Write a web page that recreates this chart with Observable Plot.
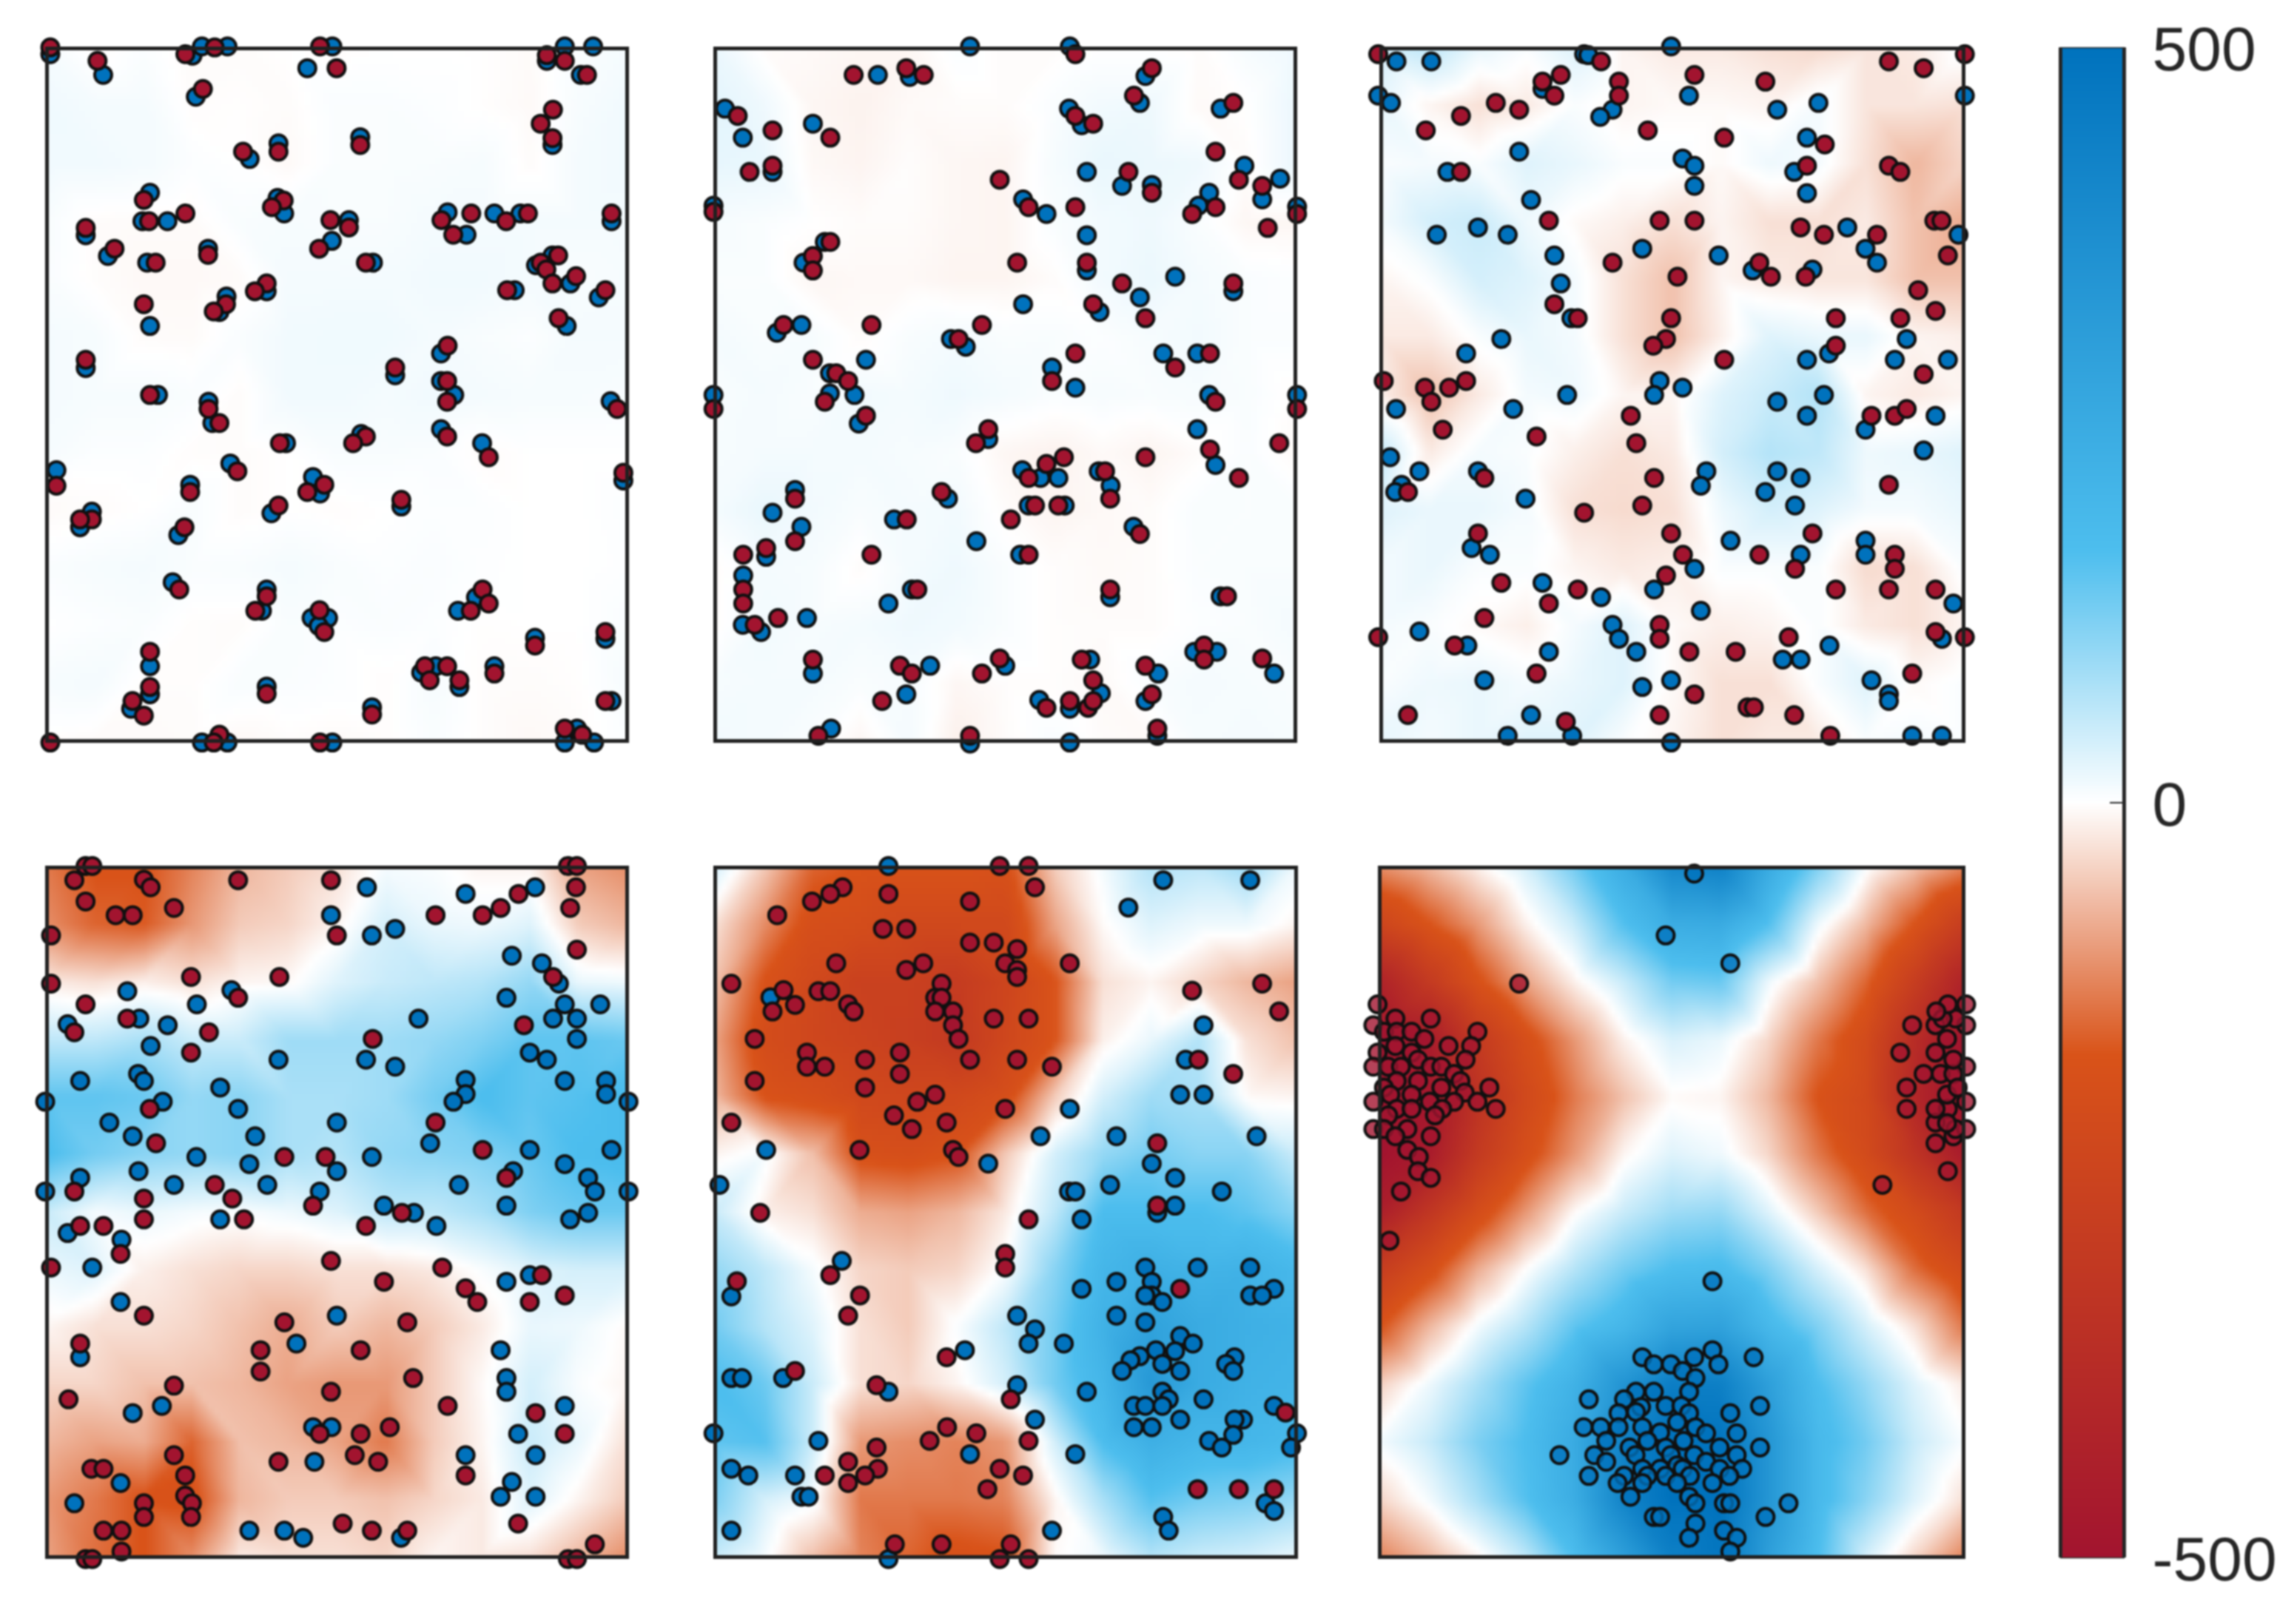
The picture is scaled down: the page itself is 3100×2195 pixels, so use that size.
<!DOCTYPE html>
<html>
<head>
<meta charset="utf-8">
<script src="https://cdn.jsdelivr.net/npm/d3@7"></script>
<script src="https://cdn.jsdelivr.net/npm/@observablehq/plot@0.6"></script>
<style>
  body { margin: 0; background: #fff; width: 3100px; height: 2195px; overflow: hidden; position: relative; }
  .panel { position: absolute; filter: blur(0.8px); }
  .panel svg { display: block; max-width: none; }
</style>
</head>
<body>
<script>
// dots are [x, y], in the units given by each panel's xDomain / yDomain
const red1 = [[107,90],[207,116],[393,103],[455,90],[430,170],[678,88],[713,130],[1158,105],[1196,116],[1243,143],[1171,210],[1145,237],[1170,265],[515,291],[590,291],[763,278],[305,384],[601,385],[576,398],[393,410],[316,425],[182,438],[243,478],[441,490],[330,505],[700,423],[739,437],[676,478],[775,505],[935,423],[998,410],[960,451],[1072,425],[1118,410],[1295,410],[1182,491],[1145,505],[1157,518],[1170,545],[1220,531],[1074,558],[1282,558],[1183,612],[565,545],[540,560],[479,585],[453,599],[305,585],[948,665],[182,692],[837,707],[947,733],[947,773],[318,760],[442,787],[465,814],[1307,787],[593,853],[775,840],[748,853],[947,840],[1035,880],[503,907],[120,935],[403,947],[687,933],[651,947],[590,973],[850,962],[1320,910],[195,1000],[170,1000],[391,1015],[380,1135],[565,1148],[541,1176],[677,1175],[687,1217],[1022,1135],[1035,1162],[997,1176],[318,1255],[1133,1243],[1282,1217],[318,1323],[281,1350],[305,1378],[565,1336],[900,1283],[947,1283],[910,1310],[973,1310],[1047,1297],[788,1376],[1282,1350],[465,1415],[453,1430],[678,1430],[107,1430],[1196,1403],[1233,1415]];
const blue1 = [[107,103],[219,143],[408,106],[428,88],[482,88],[415,185],[651,130],[704,88],[1158,116],[1196,88],[1256,88],[1230,143],[1170,278],[529,305],[590,275],[763,263],[318,370],[588,380],[602,410],[302,425],[355,425],[182,452],[229,492],[441,478],[312,505],[739,423],[703,463],[790,505],[948,408],[988,451],[1047,410],[1102,410],[1295,425],[1170,491],[1135,510],[1208,545],[1090,558],[1268,572],[1200,627],[565,560],[480,570],[465,600],[318,627],[934,680],[182,708],[837,722],[934,733],[962,760],[335,760],[442,773],[450,814],[1293,772],[606,853],[765,835],[934,826],[1021,853],[488,892],[120,905],[403,933],[663,918],[678,950],[575,988],[850,975],[1320,925],[195,985],[170,1015],[378,1030],[366,1121],[565,1135],[555,1176],[660,1190],[695,1190],[675,1205],[1008,1150],[970,1176],[318,1283],[1133,1228],[1282,1230],[318,1337],[278,1365],[565,1322],[892,1295],[923,1283],[973,1323],[1047,1283],[788,1362],[1295,1350],[428,1430],[482,1430],[704,1430],[1196,1430],[1222,1403],[1258,1430]];
const grid1 = [
  [8,-3,4,-4,-3,0,-2,0,0,-1,-4,5,9],
  [14,10,10,-2,-1,-3,5,5,3,-1,-5,7,13],
  [13,13,10,3,0,-5,5,5,6,8,-3,10,13],
  [6,-3,-4,-4,6,8,6,6,10,10,10,10,10],
  [5,-2,-6,-6,-4,10,10,10,13,13,10,6,8],
  [10,8,-3,-4,5,13,14,14,10,6,3,10,10],
  [10,8,8,5,-3,13,13,10,13,10,8,8,6],
  [8,3,3,-2,-3,0,6,6,5,-3,0,0,0],
  [-4,-3,0,6,-3,0,-2,0,3,3,0,0,3],
  [5,8,10,5,6,10,6,3,5,2,0,0,2],
  [0,3,5,-2,-3,6,3,5,3,-1,0,0,5],
  [8,10,-2,-2,6,5,3,-2,8,-2,-3,-1,8],
  [-2,-4,-4,-3,-6,-2,-4,-2,5,-2,-6,-3,3]
];

const red2 = [[388,143],[512,130],[553,143],[910,103],[1090,130],[1048,183],[1282,197],[115,222],[197,250],[333,264],[910,222],[952,237],[1240,291],[143,330],[197,318],[1035,330],[732,345],[1295,345],[1350,357],[1090,370],[800,398],[910,398],[1185,411],[1240,398],[1363,438],[1432,411],[58,407],[333,465],[292,492],[292,520],[773,505],[937,505],[1020,545],[1282,545],[952,585],[1075,612],[430,625],[223,625],[690,625],[635,652],[910,680],[1145,707],[1227,680],[292,692],[347,718],[375,733],[855,733],[320,773],[1240,773],[58,787],[1432,787],[417,800],[705,826],[676,853],[1227,865],[1390,853],[1075,880],[883,880],[842,893],[800,920],[980,907],[1295,920],[595,947],[250,960],[815,973],[870,973],[992,960],[513,1000],[758,1000],[250,1042],[1062,1028],[182,1055],[128,1068],[430,1068],[800,1068],[128,1135],[128,1162],[538,1135],[992,1135],[1267,1148],[155,1203],[210,1190],[292,1270],[1213,1243],[1213,1270],[497,1282],[525,1297],[732,1268],[690,1297],[925,1270],[1075,1282],[1350,1268],[952,1310],[455,1350],[842,1363],[897,1350],[940,1363],[952,1350],[1090,1337],[305,1417],[662,1417],[1103,1403]];
const blue2 = [[662,88],[897,88],[445,143],[520,147],[1075,145],[1062,197],[85,208],[127,264],[292,237],[895,208],[925,240],[1252,208],[197,330],[937,330],[1020,357],[1090,355],[1308,318],[1392,343],[1350,383],[1225,370],[1200,395],[787,383],[842,411],[58,395],[1432,397],[320,465],[270,505],[937,452],[937,520],[1145,532],[1282,560],[787,585],[1062,572],[967,600],[207,640],[265,625],[617,652],[652,667],[417,692],[332,718],[855,707],[1117,680],[1197,680],[910,746],[332,757],[390,760],[58,760],[1432,760],[1225,760],[400,815],[705,845],[1197,826],[1240,895],[785,905],[828,920],[870,920],[965,907],[993,935],[610,960],[250,943],[197,987],[265,1014],[800,973],[885,973],[483,1000],[1047,1014],[677,1042],[182,1072],[780,1068],[128,1108],[470,1162],[525,1135],[992,1150],[1252,1148],[127,1203],[170,1217],[278,1190],[292,1297],[1190,1255],[1243,1255],[568,1282],[745,1282],[945,1270],[1105,1297],[1378,1297],[512,1337],[825,1348],[897,1365],[970,1335],[1075,1350],[335,1403],[662,1432],[897,1430],[1103,1417]];
const grid2 = [
  [18,-3,-5,-8,-8,4,-3,-3,0,0,-3,8,15],
  [26,15,-8,-12,-5,-3,-3,5,12,15,-5,0,18],
  [22,20,-6,-10,-2,-8,-10,8,20,18,15,-3,18],
  [8,5,0,-3,-3,-8,-10,5,12,15,5,-8,-8],
  [5,5,-8,-6,-6,-10,-10,-3,12,18,10,5,3],
  [10,6,8,-3,6,10,5,6,3,8,12,5,5],
  [5,10,6,12,10,15,10,5,8,6,8,6,-2],
  [8,10,10,10,8,5,-8,-12,-5,-10,-3,5,-5],
  [10,20,12,6,10,12,-3,-10,-6,-3,6,5,6],
  [-3,10,8,-3,10,15,5,-2,-5,-3,5,6,6],
  [-2,12,8,10,15,12,5,-2,-3,-3,3,5,10],
  [8,10,10,5,8,-8,-2,-2,-5,5,10,8,6],
  [12,10,5,-8,10,-14,-3,5,-3,-5,8,10,8]
];

const red3 = [[55,103],[580,117],[485,143],[442,156],[470,183],[622,156],[622,183],[800,143],[967,156],[1258,117],[1340,130],[1437,103],[332,197],[387,210],[250,222],[167,250],[690,250],[870,264],[1107,277],[250,330],[1065,318],[1258,318],[1285,330],[457,424],[718,424],[800,424],[1050,437],[1105,451],[1230,451],[1365,424],[1382,424],[1397,491],[607,505],[760,532],[953,505],[980,532],[1062,532],[1327,558],[470,585],[525,612],[745,612],[1133,612],[1285,612],[1368,598],[733,652],[703,665],[1133,665],[870,692],[68,733],[165,746],[222,746],[262,733],[180,773],[1340,720],[650,800],[1217,800],[1272,800],[1300,787],[207,827],[428,840],[663,853],[705,920],[305,920],[125,947],[1258,933],[677,973],[540,987],[290,1027],[745,1027],[1078,1027],[773,1068],[953,1068],[1272,1068],[1037,1095],[1272,1095],[733,1108],[345,1122],[525,1135],[457,1162],[1133,1135],[1258,1135],[1368,1135],[305,1190],[718,1203],[718,1230],[1022,1227],[1368,1217],[55,1227],[1437,1227],[235,1243],[788,1255],[897,1255],[428,1297],[1313,1297],[800,1337],[925,1362],[940,1362],[125,1377],[718,1377],[1035,1377],[497,1390],[1120,1417]];
const blue3 = [[98,117],[180,117],[540,103],[550,105],[745,88],[55,183],[85,197],[442,170],[787,183],[1437,183],[607,210],[578,224],[995,210],[1092,197],[387,291],[1065,264],[772,304],[800,318],[1035,330],[218,330],[800,357],[1065,371],[415,384],[290,437],[360,451],[193,451],[1160,437],[1422,451],[470,491],[677,478],[857,491],[1203,478],[1230,505],[937,520],[1078,518],[485,545],[510,612],[1300,652],[345,652],[262,680],[1065,692],[1117,680],[1272,692],[1397,692],[718,733],[772,746],[705,760],[500,760],[97,787],[373,787],[995,773],[1105,760],[1065,800],[1368,800],[1203,827],[83,880],[1340,867],[152,907],[290,907],[828,907],[995,907],[1050,920],[815,935],[110,933],[95,947],[967,947],[402,960],[1037,973],[885,1041],[1203,1041],[275,1055],[318,1068],[1050,1068],[1203,1068],[800,1095],[442,1122],[580,1150],[705,1135],[1410,1162],[815,1176],[152,1216],[607,1203],[622,1230],[265,1243],[457,1255],[663,1255],[1118,1243],[1383,1230],[1008,1270],[1050,1270],[305,1310],[1217,1310],[745,1310],[677,1323],[1258,1337],[1258,1350],[415,1377],[360,1417],[512,1417],[1313,1417],[1383,1417],[745,1430]];
const grid3 = [
  [40,60,20,5,30,-10,-20,-20,-30,-35,-25,-20,5],
  [20,-10,-30,-20,5,-10,-5,-5,-10,10,-25,-25,-30],
  [5,10,5,30,20,5,5,-5,15,10,-30,-70,-40],
  [10,40,50,15,-5,-15,-30,-10,-30,-30,-20,-60,-80],
  [-10,5,40,30,10,-30,-60,-10,-20,-25,-25,-60,-60],
  [-20,-20,5,20,10,-30,-60,-15,30,20,20,-10,-15],
  [-15,-60,-20,10,15,-10,-10,30,50,70,-10,-20,-10],
  [50,-20,10,5,-15,-30,-20,40,70,60,15,20,30],
  [30,20,20,10,-30,-35,-30,15,40,30,10,10,20],
  [10,20,5,5,-10,-20,-15,5,5,5,-35,-30,5],
  [10,5,-5,-15,10,30,-5,-15,-10,5,-20,-30,-10],
  [5,15,20,10,20,30,-5,-30,-30,5,30,-5,5],
  [20,10,20,30,30,5,-10,-30,-20,-20,5,10,5]
];

const red4 = [[190,73],[205,73],[165,101],[320,100],[335,115],[190,143],[257,170],[295,170],[387,156],[530,101],[737,101],[1265,73],[1285,73],[1283,115],[1155,128],[1115,156],[1075,170],[970,170],[1270,156],[113,210],[750,210],[1285,238],[425,292],[622,292],[113,305],[530,333],[190,346],[1232,292],[283,374],[165,401],[465,401],[1167,387],[830,414],[425,441],[333,552],[970,579],[347,620],[633,647],[725,647],[1075,633],[1128,688],[165,715],[478,702],[320,729],[517,729],[697,743],[320,770],[543,770],[178,783],[230,783],[895,757],[815,783],[268,838],[737,852],[113,865],[985,865],[855,893],[1207,880],[1037,906],[1063,933],[1180,933],[1258,920],[320,960],[633,973],[907,973],[178,1015],[580,1028],[803,1028],[580,1070],[920,1083],[387,1098],[737,1110],[997,1138],[152,1125],[1193,1152],[868,1180],[712,1193],[803,1193],[1258,1193],[387,1235],[790,1235],[620,1248],[842,1248],[203,1262],[230,1262],[412,1275],[1037,1275],[412,1315],[427,1330],[320,1330],[320,1357],[425,1357],[1154,1370],[763,1370],[230,1384],[270,1384],[828,1384],[907,1384],[270,1425],[190,1440],[205,1440],[1325,1411],[1265,1440],[1285,1440]];
const blue4 = [[817,115],[1192,115],[1037,128],[737,170],[880,197],[828,210],[1140,250],[1207,265],[1245,305],[283,320],[515,318],[1128,333],[438,346],[1258,346],[1337,346],[150,385],[310,374],[373,387],[932,374],[1232,374],[1285,374],[1285,414],[335,428],[620,455],[1180,441],[1218,455],[815,455],[880,469],[307,483],[320,497],[178,497],[1037,495],[1258,497],[1350,497],[1037,523],[1350,523],[490,510],[100,538],[362,538],[1010,538],[1400,538],[530,552],[243,579],[750,579],[295,606],[568,606],[958,620],[1180,633],[1362,633],[437,647],[828,647],[555,661],[750,675],[1258,661],[308,675],[1143,675],[178,688],[1310,688],[100,715],[387,702],[595,702],[1022,702],[712,715],[1325,715],[1400,715],[1128,743],[855,743],[922,757],[1310,757],[490,770],[1270,770],[972,783],[150,797],[270,810],[205,865],[1180,880],[1128,893],[268,933],[750,960],[660,1015],[178,1042],[1115,1028],[1128,1083],[1128,1110],[360,1138],[1258,1138],[295,1152],[697,1180],[738,1180],[1154,1193],[1037,1235],[1193,1235],[700,1248],[268,1290],[1140,1288],[1115,1317],[1193,1317],[165,1330],[555,1384],[633,1384],[675,1398],[893,1398]];
const grid4 = [
  [-130,-170,-170,-120,-70,-50,-30,10,5,-10,-10,-90,-110],
  [-110,-150,-160,-100,-50,-40,-10,40,20,15,30,-50,-70],
  [-20,-30,-15,-30,-10,-5,30,50,60,70,100,20,15],
  [60,60,80,50,50,90,90,90,100,120,150,150,140],
  [150,150,140,100,110,80,80,90,130,170,150,160,180],
  [170,130,110,100,110,80,70,100,110,120,140,170,180],
  [50,10,20,10,5,15,30,60,60,80,120,140,140],
  [20,30,-15,-30,-40,-40,-30,-30,-20,5,30,40,40],
  [-10,-30,-30,-40,-60,-80,-50,-70,-50,-20,20,15,-5],
  [-40,-40,-60,-60,-70,-90,-100,-100,-50,-5,40,5,-10],
  [-70,-90,-80,-150,-60,-70,-90,-130,-50,-10,50,20,-30],
  [-100,-130,-170,-180,-70,-50,-50,-60,-40,-20,30,-10,-50],
  [-90,-140,-170,-110,-20,-30,-30,-40,-10,-20,-30,-70,-110]
];

const red5 = [[732,73],[800,73],[362,115],[333,128],[290,143],[470,128],[815,115],[662,143],[208,170],[457,197],[512,197],[662,224],[718,224],[773,237],[347,265],[552,265],[512,278],[745,265],[773,278],[773,292],[897,265],[100,305],[223,318],[305,320],[333,320],[595,305],[1185,319],[1350,305],[580,333],[595,333],[375,346],[250,347],[197,360],[388,360],[580,360],[622,360],[1390,360],[622,387],[718,374],[800,374],[155,414],[635,414],[278,441],[497,441],[278,469],[320,469],[415,455],[662,455],[773,455],[855,469],[1200,455],[497,483],[155,497],[1282,483],[415,510],[580,524],[538,538],[745,552],[483,565],[100,579],[607,579],[525,592],[402,633],[622,633],[635,647],[1103,620],[1103,743],[168,757],[800,770],[745,838],[745,865],[333,880],[113,892],[403,920],[1157,907],[375,960],[607,1042],[250,1069],[442,1097],[758,1125],[1405,1151],[608,1180],[677,1192],[567,1207],[800,1207],[442,1220],[375,1248],[445,1262],[732,1262],[320,1275],[415,1275],[787,1275],[375,1290],[703,1302],[1198,1302],[1295,1302],[1378,1302],[485,1411],[595,1411],[758,1411],[732,1440],[800,1440]];
const blue5 = [[470,73],[1117,101],[1322,101],[1035,155],[192,332],[1212,387],[1170,455],[1157,524],[1212,524],[897,552],[828,606],[1007,606],[1337,606],[182,633],[705,660],[1090,660],[1145,688],[72,702],[895,715],[910,715],[992,702],[1255,715],[1145,743],[1103,757],[925,770],[360,852],[1075,865],[1198,865],[1322,865],[1090,893],[1007,893],[925,907],[100,922],[1378,907],[1090,920],[1075,920],[1115,933],[1322,920],[1350,920],[773,960],[1007,960],[1075,973],[815,987],[800,1015],[883,1015],[1157,1000],[1187,1015],[650,1028],[1100,1028],[1145,1030],[1062,1040],[1040,1048],[1285,1042],[1115,1055],[1265,1055],[100,1083],[125,1083],[222,1083],[1020,1069],[1157,1069],[1282,1069],[773,1097],[470,1110],[937,1110],[1115,1110],[1130,1125],[1212,1125],[1048,1138],[1075,1138],[1115,1138],[1378,1138],[815,1165],[1157,1165],[1305,1165],[1285,1165],[1048,1180],[1090,1180],[1282,1195],[58,1192],[1432,1192],[305,1207],[1225,1207],[1255,1220],[1418,1220],[662,1233],[910,1233],[100,1262],[140,1275],[250,1275],[265,1317],[282,1317],[1358,1330],[1378,1345],[1117,1357],[100,1384],[855,1384],[1130,1384],[470,1440]];
const grid5 = [
  [40,-50,-150,-170,-170,-170,-180,-50,10,70,60,90,15],
  [-30,-110,-190,-200,-220,-220,-220,-90,-5,30,15,15,-10],
  [-60,-170,-220,-260,-260,-290,-240,-170,-30,-10,-40,-70,-90],
  [-90,-200,-230,-250,-270,-300,-230,-170,-15,20,70,-30,-60],
  [-70,-170,-190,-220,-230,-220,-190,-50,40,90,80,-5,-10],
  [-10,10,-60,-180,-190,-170,-50,40,100,130,110,110,50],
  [50,-15,-30,-80,-90,-70,-20,60,170,170,170,150,110],
  [100,60,10,-40,-50,-40,5,110,200,230,210,220,190],
  [130,70,30,-30,-50,5,60,130,220,290,250,230,220],
  [170,140,50,-30,-40,-10,40,130,200,330,250,220,210],
  [150,160,50,-100,-110,-120,-100,40,170,230,200,200,180],
  [120,40,10,-130,-130,-130,-120,-10,80,160,130,120,100],
  [50,10,-60,-120,-150,-180,-170,-5,15,70,50,40,20]
];

const red6 = [[388,305],[55,346],[180,374],[97,374],[290,400],[45,387],[70,400],[100,400],[135,400],[222,428],[275,428],[97,428],[135,441],[55,441],[165,414],[262,455],[45,469],[80,469],[110,469],[150,455],[180,469],[205,469],[235,483],[100,497],[150,497],[205,510],[250,497],[318,510],[70,510],[260,520],[45,538],[85,524],[135,524],[178,538],[235,538],[290,538],[333,552],[100,552],[135,552],[207,552],[80,565],[190,565],[125,592],[45,592],[70,592],[180,606],[97,606],[125,633],[152,647],[150,675],[180,688],[110,715],[83,812],[1243,702],[1397,675],[1368,620],[1410,606],[1368,579],[1440,592],[1415,592],[1397,552],[1368,552],[1440,538],[1395,524],[1300,552],[1300,510],[1340,483],[1380,483],[1440,469],[1410,483],[1285,441],[1368,441],[1410,455],[1395,414],[1313,387],[1368,387],[1440,387],[1415,374],[1385,374],[1397,346],[1440,346],[1370,360],[1420,510],[1395,580]];
const blue6 = [[800,88],[733,210],[885,265],[843,892],[843,1028],[678,1042],[705,1056],[745,1056],[800,1042],[857,1056],[940,1042],[773,1069],[803,1083],[663,1110],[705,1110],[552,1125],[635,1125],[788,1110],[955,1138],[675,1140],[733,1138],[770,1138],[622,1152],[663,1150],[788,1152],[885,1152],[540,1180],[580,1180],[622,1180],[678,1180],[720,1190],[760,1170],[803,1180],[828,1192],[900,1192],[593,1207],[690,1207],[775,1207],[648,1220],[733,1220],[860,1220],[955,1220],[565,1235],[662,1235],[483,1235],[745,1235],[800,1235],[900,1235],[828,1248],[593,1248],[678,1262],[720,1262],[760,1255],[773,1262],[860,1262],[913,1262],[552,1276],[635,1276],[690,1276],[733,1276],[790,1276],[883,1276],[620,1290],[678,1290],[760,1290],[843,1290],[650,1317],[788,1317],[803,1330],[870,1330],[885,1330],[1022,1330],[705,1357],[720,1357],[968,1357],[803,1370],[870,1384],[788,1398],[900,1398],[885,1425]];
const grid6 = [
  [-110,-70,-15,40,130,240,400,430,250,120,5,-60,-120],
  [-240,-170,-100,-15,50,160,240,250,160,15,-70,-170,-280],
  [-420,-300,-180,-90,-15,50,130,140,15,-60,-150,-280,-420],
  [-500,-460,-300,-190,-100,-15,35,20,-40,-130,-210,-370,-500],
  [-500,-480,-340,-220,-130,-60,-5,-10,-70,-170,-220,-400,-500],
  [-500,-460,-300,-190,-100,-10,30,15,-40,-130,-210,-330,-460],
  [-440,-320,-200,-100,-5,50,90,100,30,-50,-140,-210,-300],
  [-280,-190,-80,0,70,130,170,180,120,40,-30,-140,-210],
  [-170,-70,10,70,150,200,280,290,190,120,40,-30,-130],
  [-45,15,80,150,220,350,450,440,300,170,100,30,-20],
  [10,50,120,170,250,430,500,490,340,190,130,50,5],
  [-40,10,80,160,240,420,500,500,340,190,110,30,-30],
  [-120,-70,-10,60,170,300,440,480,300,170,40,-40,-120]
];

const colorDomain = [-500, -167, 0, 167, 500];
const colorRange = ["#a2142f", "#d95319", "#ffffff", "#4dbeee", "#0072bd"];
const barTicks = [-500, 0, 500];

const panels = [
  {red: red1, blue: blue1, grid: grid1, xDomain: [100, 1328], yDomain: [1427, 92], left: 63, right: 847, top: 65, bottom: 1001},
  {red: red2, blue: blue2, grid: grid2, xDomain: [62, 1428], yDomain: [1427, 92], left: 966, right: 1750, top: 65, bottom: 1001},
  {red: red3, blue: blue3, grid: grid3, xDomain: [62, 1434], yDomain: [1427, 92], left: 1866, right: 2653, top: 65, bottom: 1001},
  {red: red4, blue: blue4, grid: grid4, xDomain: [104, 1397], yDomain: [1436, 76], left: 63, right: 847, top: 1172, bottom: 2104},
  {red: red5, blue: blue5, grid: grid5, xDomain: [62, 1430], yDomain: [1436, 76], left: 966, right: 1751, top: 1172, bottom: 2104},
  {red: red6, blue: blue6, grid: grid6, xDomain: [60, 1434], yDomain: [1436, 76], left: 1864, right: 2653, top: 1172, bottom: 2104, fillOpacity: 0.8}
];

const pad = 30;

function place(node, left, top) {
  const div = document.createElement("div");
  div.className = "panel";
  div.style.left = left + "px";
  div.style.top = top + "px";
  div.append(node);
  document.body.append(div);
}

for (const p of panels) {
  // spread the grid readings evenly over the frame
  const samples = p.grid.flatMap((row, j) => row.map((v, i) => ({
    x: p.xDomain[0] + i / (row.length - 1) * (p.xDomain[1] - p.xDomain[0]),
    y: p.yDomain[1] + j / (p.grid.length - 1) * (p.yDomain[0] - p.yDomain[1]),
    v
  })));
  const chart = Plot.plot({
    width: p.right - p.left + 2 * pad,
    height: p.bottom - p.top + 2 * pad,
    margin: pad,
    x: {domain: p.xDomain, axis: null},
    y: {domain: p.yDomain, axis: null},
    color: {type: "linear", domain: colorDomain, range: colorRange},
    marks: [
      Plot.raster(samples, {
        x: "x", y: "y", fill: "v",
        x1: p.xDomain[0], x2: p.xDomain[1], y1: p.yDomain[0], y2: p.yDomain[1],
        interpolate: "barycentric", pixelSize: 8
      }),
      Plot.dot(p.blue, {r: 11.5, fill: "#0072bd", fillOpacity: p.fillOpacity, stroke: "#101010", strokeWidth: 4}),
      Plot.dot(p.red, {r: 11.5, fill: "#a2142f", fillOpacity: p.fillOpacity, stroke: "#101010", strokeWidth: 4}),
      Plot.frame({stroke: "#202020", strokeWidth: 5})
    ]
  });
  place(chart, p.left - pad, p.top - pad);
}

// colour bar
const bar = Plot.plot({
  width: 330,
  height: 2195,
  marginTop: 64,
  marginBottom: 90,
  marginLeft: 14,
  marginRight: 230,
  style: {fontFamily: "Liberation Sans", color: "#262626"},
  x: {domain: [0, 1], axis: null},
  y: {domain: [-500, 500], axis: null},
  color: {type: "linear", domain: colorDomain, range: colorRange},
  marks: [
    Plot.raster({x1: 0, x2: 1, y1: -500, y2: 500, fill: (x, y) => y, pixelSize: 2}),
    Plot.ruleY([0], {x1: 0.78, x2: 1, stroke: "#262626", strokeWidth: 2}),
    Plot.ruleX([0, 1], {stroke: "#262626", strokeWidth: 5}),
    Plot.frame({stroke: "#262626", strokeWidth: 1.5}),
    Plot.axisY(barTicks, {anchor: "right", tickSize: 0, tickPadding: 38, fontSize: 84, dy: 4, tickFormat: (d) => String(d), label: null})
  ]
});
place(bar, 2770, 0);
</script>
</body>
</html>
